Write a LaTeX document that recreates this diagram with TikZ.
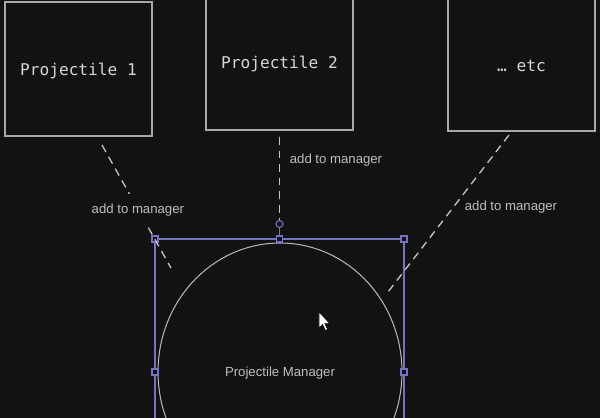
\documentclass[tikz,border=0pt]{standalone}
\usepackage{fontspec}
\newfontfamily\boxfont{DejaVu Sans Mono}
\newfontfamily\notefont{Liberation Sans}
\usetikzlibrary{shapes.geometric}

\begin{document}
\begin{tikzpicture}[x=0.02cm, y=-0.02cm,
  projbox/.style={draw=boxgray, line width=0.8pt, minimum width=2.94cm, text depth=0pt, text=textgray, font=\boxfont\fontsize{9.2}{11}\selectfont},
  addline/.style={draw=linegray, line width=0.75pt, dash pattern=on 4.5pt off 3.2pt},
  addlabel/.style={text=notegray, text depth=0pt, font=\notefont\fontsize{7.5}{9}\selectfont},
  handle/.style={draw=selpurple, fill=bgcolor, line width=0.6pt, minimum size=0.12cm, inner sep=0pt}]

  % Define colors
  \definecolor{bgcolor}{RGB}{18,18,18} % Canvas
  \definecolor{boxgray}{RGB}{168,168,168}
  \definecolor{textgray}{RGB}{214,214,214}
  \definecolor{notegray}{RGB}{190,190,190}
  \definecolor{linegray}{RGB}{196,196,196}
  \definecolor{circlegray}{RGB}{180,180,180}
  \definecolor{selpurple}{RGB}{118,114,196} % Selection frame

  \useasboundingbox (0,0) rectangle (600,418);
  \fill[bgcolor] (0,0) rectangle (600,418);
  \clip (0,0) rectangle (600,418);

  % The projectiles
  \node[projbox, minimum height=2.68cm] (proj1) at (78.5,69) {Projectile 1};
  \node[projbox, minimum height=2.7cm] (proj2) at (279.5,62.5) {Projectile 2};
  \node[projbox, minimum height=2.72cm, text height=10pt] (proj3) at (521.5,63) {… etc};

  % The manager
  \node[ellipse, draw=circlegray, line width=0.6pt, minimum width=4.88cm, minimum height=5.16cm, addlabel] (manager) at (280,372) {Projectile Manager};

  % Selection frame and handles
  \coordinate (selnw) at (155,239);
  \coordinate (selse) at (404,505);
  \draw[selpurple, line width=0.7pt] (selnw) rectangle (selse);
  \foreach \hx/\hy/\hn in {155/239/nw, 279.5/239/n, 404/239/ne, 155/372/w, 404/372/e, 155/505/sw, 279.5/505/s, 404/505/se}
    \node[handle] (h\hn) at (\hx,\hy) {};
  \node[handle, circle, minimum size=0.14cm] (rot) at (279.5,224) {};
  \draw[selpurple, line width=0.6pt] (rot) -- (hn);

  % Dashed links
  \coordinate (d1a) at (102,145);
  \coordinate (d1b) at (171,268);
  \draw[addline] (d1a) -- (d1b) node[pos=0.52, addlabel, fill=bgcolor, inner xsep=2pt, inner ysep=6pt] (lbl1) {add to manager};

  \coordinate (d2a) at (279.5,137);
  \draw[addline] (d2a) -- (rot);
  \node[addlabel] (lbl2) at (336,159) {add to manager};

  \coordinate (d3a) at (509,135);
  \coordinate (d3b) at (388,292);
  \draw[addline] (d3a) -- (d3b);
  \node[addlabel] (lbl3) at (511,206) {add to manager};

  % Mouse pointer
  \fill[white, draw=black, line width=0.3pt] (319,312) -- ++(0,16) -- ++(3.6,-3.5) -- ++(2.8,6) -- ++(2.2,-1) -- ++(-2.7,-5.8) -- ++(5,0) -- cycle;
\end{tikzpicture}
\end{document}
